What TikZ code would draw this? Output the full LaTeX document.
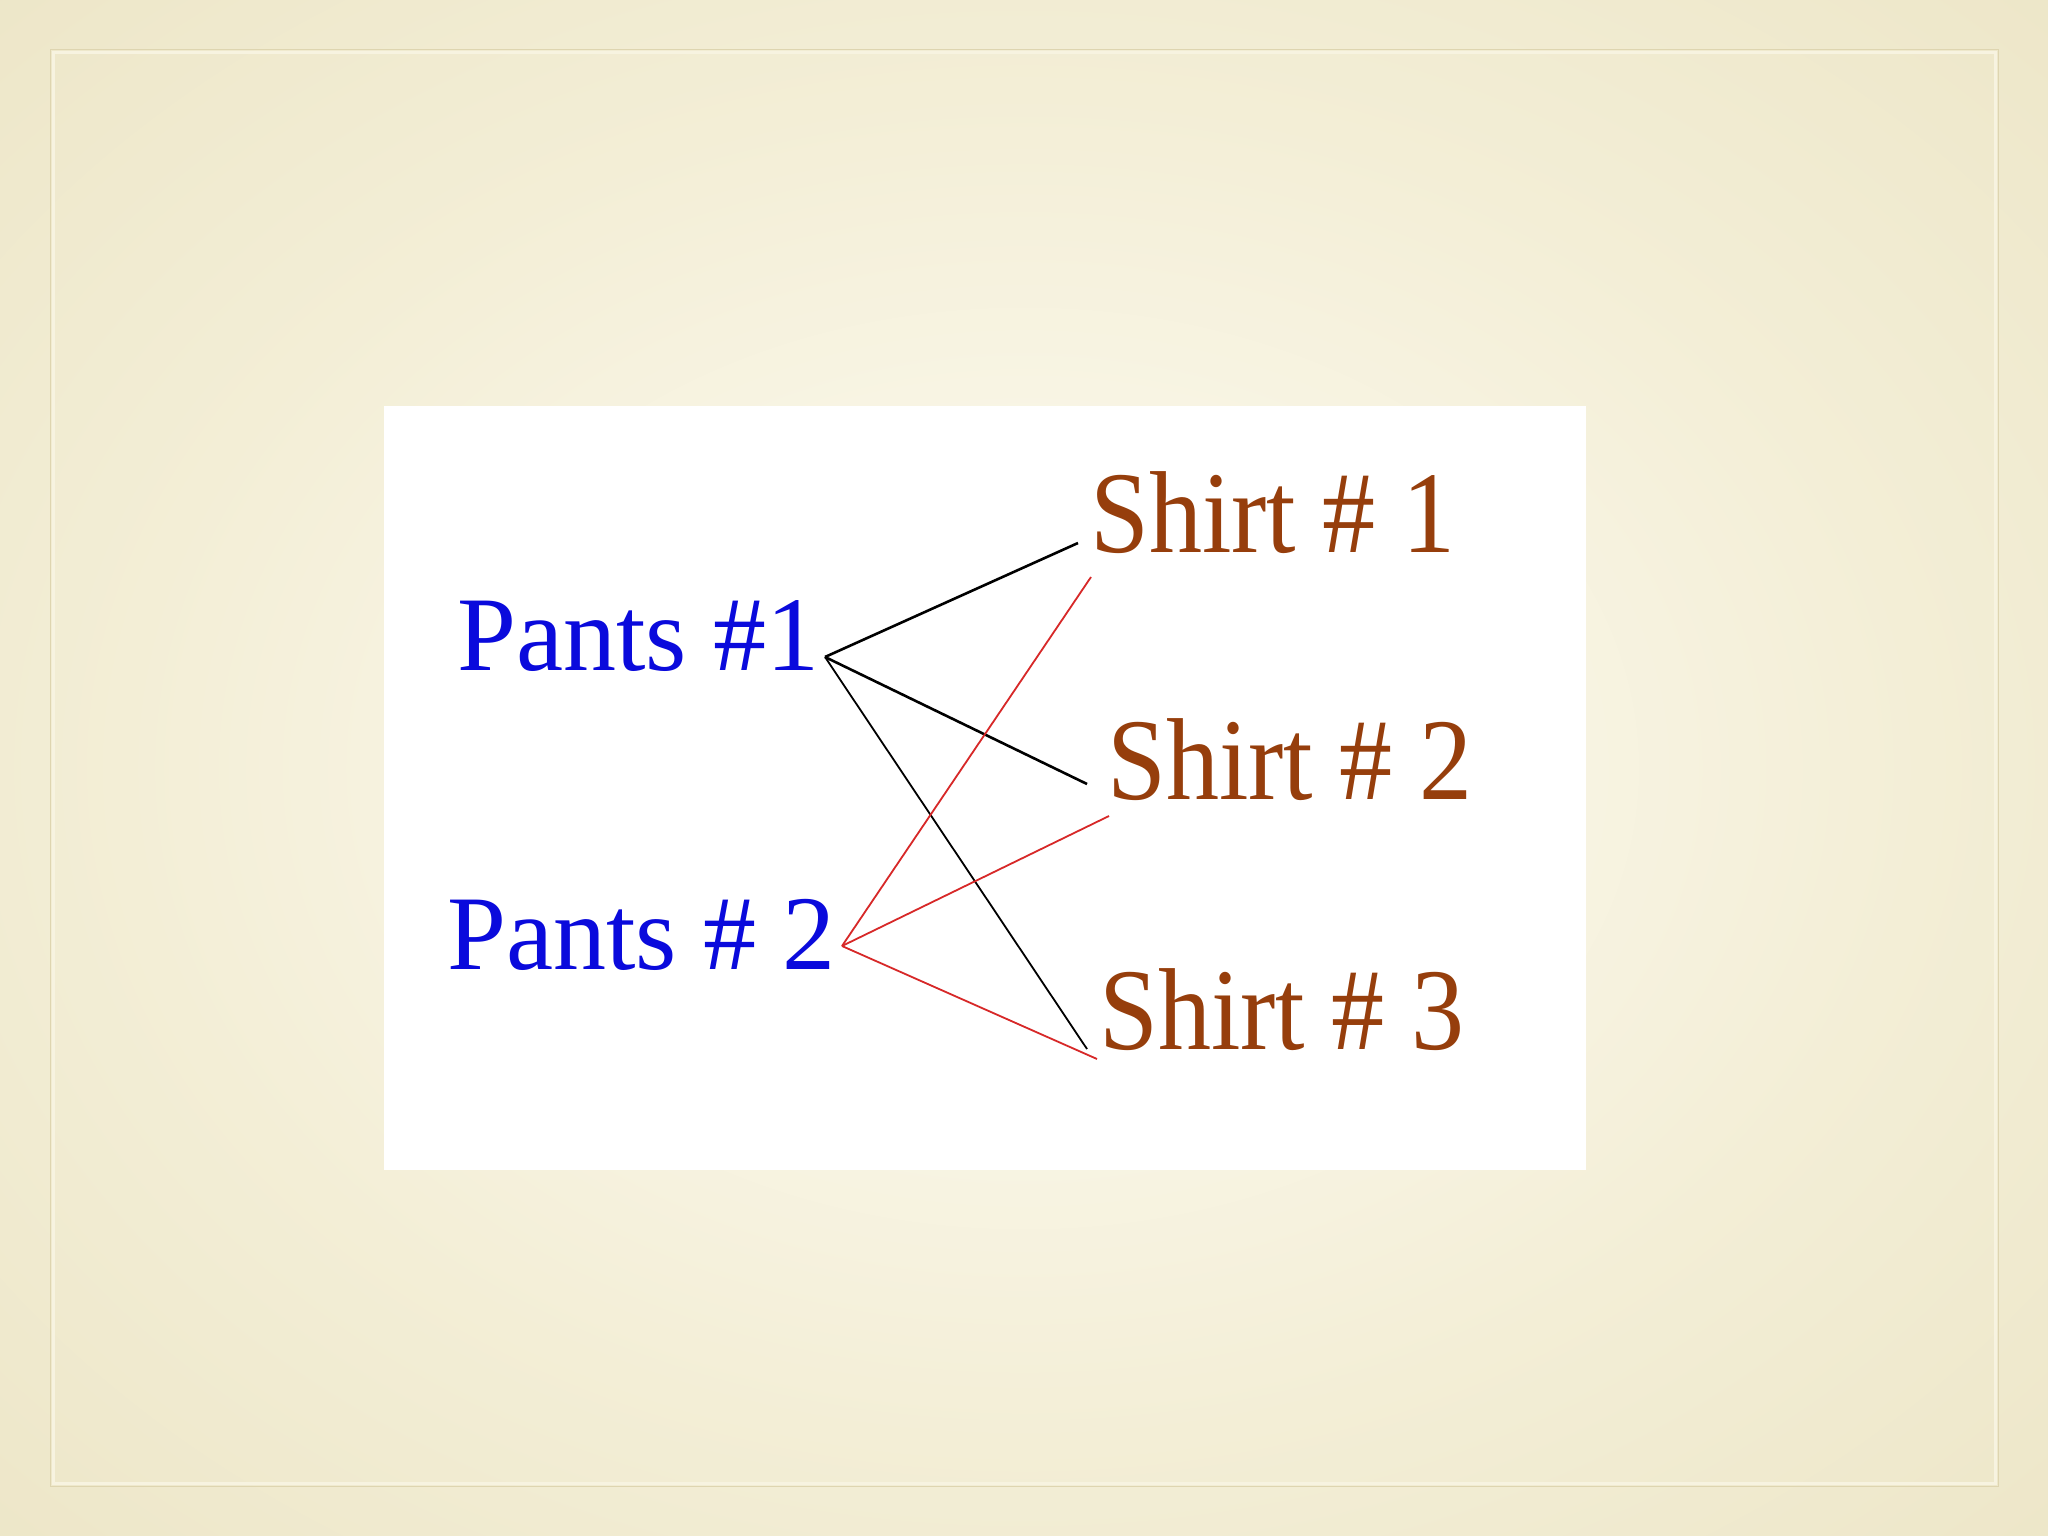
\documentclass[tikz,border=0pt]{standalone}
\usepackage{fontspec}
\setmainfont{Liberation Serif}
\definecolor{bgA}{RGB}{250,247,233}
\definecolor{bgB}{RGB}{243,238,214}
\definecolor{bgC}{RGB}{236,229,198}
\definecolor{bgD}{RGB}{232,223,188}
\definecolor{bgE}{RGB}{225,215,173}
\definecolor{frameln}{RGB}{247,243,224}
\definecolor{frameshadow}{RGB}{222,213,176}
\definecolor{pantsblue}{RGB}{10,10,220}
\definecolor{shirtbrown}{RGB}{150,62,12}
\definecolor{redln}{RGB}{215,40,40}
\pgfdeclareradialshading{bgshade}{\pgfpoint{0bp}{0bp}}{color(0bp)=(bgA); color(8bp)=(bgA); color(22bp)=(bgB); color(38bp)=(bgC); color(46bp)=(bgD); color(50bp)=(bgE)}
\tikzset{
  pantslbl/.style={anchor=base west, inner sep=0pt, text=pantsblue, font=\fontsize{106}{120}\selectfont},
  shirtlbl/.style={anchor=base west, inner sep=0pt, text=shirtbrown, font=\fontsize{106}{120}\selectfont, yscale=1.1},
  blackln/.style={draw=black, line width=2.6pt},
  redline/.style={draw=redln, line width=1.8pt},
}
\begin{document}
\begin{tikzpicture}[x=1pt,y=-1pt]
\useasboundingbox (0,0) rectangle (2048,1536);
\shade[shading=bgshade] (0,0) rectangle (2048,1536);
\draw[frameshadow, line width=1pt] (50,50) rectangle (1998,1486);
\draw[frameln, line width=3pt] (53,53) rectangle (1995,1483);
\fill[white] (384,406) rectangle (1586,1170);
% labels
\node[pantslbl] (pants1) at (457,670) {Pants \#1};
\node[pantslbl] (pants2) at (447,969) {Pants \# 2};
\node[shirtlbl] (shirt1) at (1090,552) {Shirt \# 1};
\node[shirtlbl] (shirt2) at (1107,799) {Shirt \# 2};
\node[shirtlbl] (shirt3) at (1099,1049) {Shirt \# 3};
% connector end points
\coordinate (p1) at (825,657);
\coordinate (p2) at (842,946);
\coordinate (s1b) at (1078,543);
\coordinate (s2b) at (1087,784);
\coordinate (s3b) at (1087,1049);
\coordinate (s1r) at (1091,577);
\coordinate (s2r) at (1109,816);
\coordinate (s3r) at (1097,1059);
\draw[blackln] (p1) -- (s1b);
\draw[blackln] (p1) -- (s2b);
\draw[blackln, line width=1.8pt] (p1) -- (s3b);
\draw[redline] (p2) -- (s1r);
\draw[redline] (p2) -- (s2r);
\draw[redline] (p2) -- (s3r);
\end{tikzpicture}
\end{document}
